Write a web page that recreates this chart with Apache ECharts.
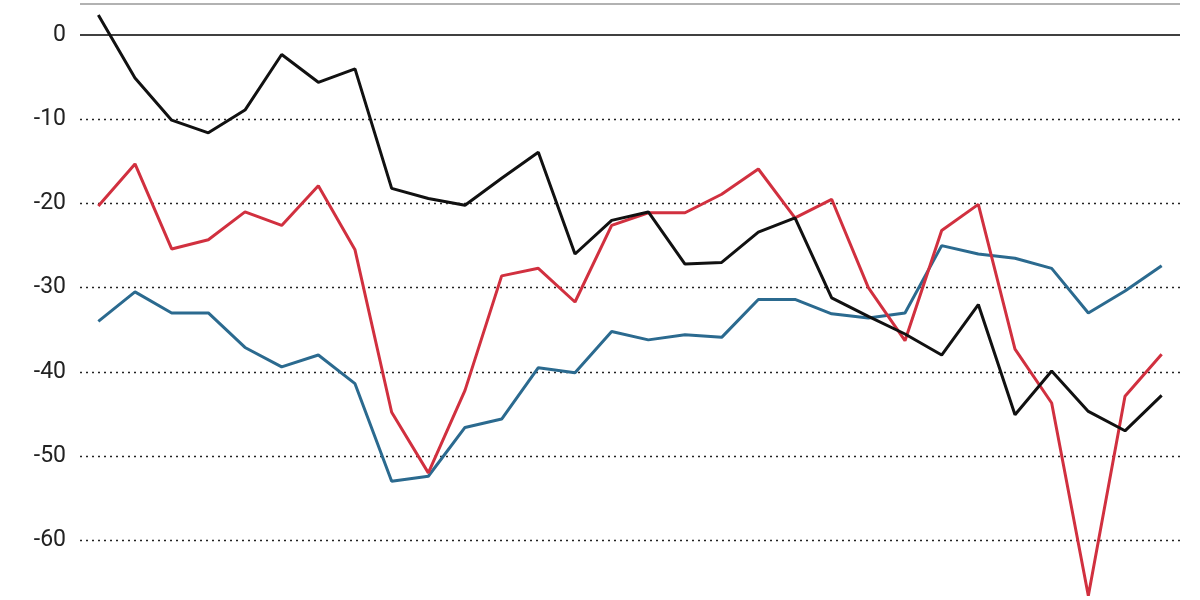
<!DOCTYPE html>
<html><head><meta charset="utf-8">
<script src="https://cdn.jsdelivr.net/npm/echarts@6/dist/echarts.min.js"></script>
<style>html,body{margin:0;padding:0;background:#fff}#c{width:1200px;height:600px}</style>
</head><body><div id="c"></div>
<script>
const categories = Array.from({length:30},(_,i)=>String(i+1));
const blackSeries = [2.4,-5.1,-10.1,-11.6,-8.9,-2.3,-5.6,-4.0,-18.2,-19.4,-20.2,-17,-13.9,-26,-22,-21,-27.2,-27,-23.4,-21.7,-31.2,-33.4,-35.5,-38,-32,-45.1,-39.9,-44.7,-47,-42.8];
const redSeries = [-20.3,-15.3,-25.4,-24.3,-21,-22.6,-17.9,-25.5,-44.8,-52,-42.2,-28.6,-27.7,-31.7,-22.6,-21.1,-21.1,-18.9,-15.9,-21.7,-19.5,-30,-36.3,-23.2,-20.1,-37.3,-43.7,-66.6,-42.9,-37.9];
const blueSeries = [-34,-30.5,-33,-33,-37.1,-39.4,-38,-41.4,-53,-52.4,-46.6,-45.6,-39.5,-40.1,-35.2,-36.2,-35.6,-35.9,-31.4,-31.4,-33.1,-33.6,-33,-25,-26,-26.5,-27.7,-33,-30.4,-27.4];
const yTicks = [0,-10,-20,-30,-40,-50,-60];

const chart = echarts.init(document.getElementById('c'));
const ln = (name,data,color,z)=>({name,type:'line',data,symbol:'none',z,lineStyle:{color,width:3},itemStyle:{color}});
const lbl = {show:true,position:'start',distance:14,fontFamily:'Roboto',fontSize:23,color:'#222',
  formatter:p=>(p.value===0?'0':'-'+(-p.value))};
const tickLines = yTicks.map(v=>({yAxis:v,label:lbl,
  lineStyle:v===0?{color:'#000',type:'solid',width:1.5}:{color:'#222',type:[2,4],width:1.3}}));
tickLines.push({yAxis:3.7,label:{show:false},lineStyle:{color:'#999',type:'solid',width:1.5}});
chart.setOption({
  animation:false,
  grid:{left:80,right:20,top:4,bottom:0},
  xAxis:{type:'category',data:categories,boundaryGap:true,axisLine:{show:false},axisTick:{show:false},axisLabel:{show:false}},
  yAxis:{type:'value',min:-67.1,max:3.7,axisLine:{show:false},axisTick:{show:false},axisLabel:{show:false},splitLine:{show:false}},
  series:[
    Object.assign(ln('blue',blueSeries,'#2b6a8f',3),{markLine:{silent:true,symbol:'none',z:1,data:tickLines}}),
    ln('red',redSeries,'#d1303f',4),
    ln('black',blackSeries,'#111',5)
  ]
});
</script></body></html>
